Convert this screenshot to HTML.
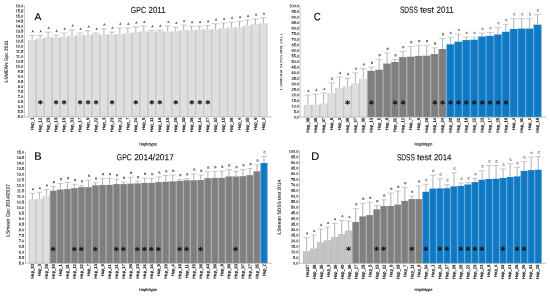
<!DOCTYPE html>
<html lang="en">
<head>
<meta charset="utf-8">
<title>Haplotype LSMEAN charts</title>
<style>
html,body{margin:0;padding:0;background:#fff;}
body{width:550px;height:296px;overflow:hidden;font-family:"Liberation Sans", sans-serif;}
svg{display:block;font-family:"Liberation Sans", sans-serif;text-rendering:geometricPrecision;}
.eb{stroke:#727272;stroke-width:0.55;fill:none;}
.ec{stroke:#999;stroke-width:0.5;fill:none;}
.ax{stroke:#9a9a9a;stroke-width:0.6;fill:none;}
.lt{font-size:3.2px;text-anchor:middle;fill:#222;font-weight:bold;}
.yl{font-size:3.85px;text-anchor:end;fill:#111;stroke:#111;stroke-width:0.1;}
.xl{font-size:4.15px;text-anchor:end;fill:#111;stroke:#111;stroke-width:0.16;}
.st{font-family:"DejaVu Sans",sans-serif;font-size:8.8px;font-weight:bold;text-anchor:middle;fill:#111;stroke:#111;stroke-width:0.3;}
.tt{font-size:8.8px;fill:#111;stroke:#111;stroke-width:0.12;}
.pl{fill:#000;stroke:#000;stroke-width:0.15;}
.yt{text-anchor:middle;fill:#111;stroke:#111;stroke-width:0.08;}
.xt{font-size:4px;text-anchor:middle;fill:#111;stroke:#111;stroke-width:0.12;}
</style>
</head>
<body>
<svg width="550" height="296" viewBox="0 0 550 296">
<rect x="0" y="0" width="550" height="296" fill="#ffffff"/>
<g class="chart" id="chartA">
<rect x="28.15" y="40.1" width="7.97" height="76.8" fill="#dfdfdf"/><path d="M28.4 40.1V116.9M35.88 40.1V116.9" stroke="#b2b2b2" stroke-width="0.5" fill="none"/>
<rect x="36.12" y="38.4" width="7.97" height="78.5" fill="#dfdfdf"/><path d="M36.38 38.4V116.9M43.85 38.4V116.9" stroke="#b2b2b2" stroke-width="0.5" fill="none"/>
<rect x="44.1" y="37.3" width="7.97" height="79.6" fill="#dfdfdf"/><path d="M44.35 37.3V116.9M51.82 37.3V116.9" stroke="#b2b2b2" stroke-width="0.5" fill="none"/>
<rect x="52.07" y="37.5" width="7.97" height="79.4" fill="#dfdfdf"/><path d="M52.32 37.5V116.9M59.8 37.5V116.9" stroke="#b2b2b2" stroke-width="0.5" fill="none"/>
<rect x="60.05" y="36.9" width="7.97" height="80" fill="#dfdfdf"/><path d="M60.3 36.9V116.9M67.77 36.9V116.9" stroke="#b2b2b2" stroke-width="0.5" fill="none"/>
<rect x="68.03" y="35.7" width="7.97" height="81.2" fill="#dfdfdf"/><path d="M68.28 35.7V116.9M75.75 35.7V116.9" stroke="#b2b2b2" stroke-width="0.5" fill="none"/>
<rect x="76" y="35.2" width="7.97" height="81.7" fill="#dfdfdf"/><path d="M76.25 35.2V116.9M83.72 35.2V116.9" stroke="#b2b2b2" stroke-width="0.5" fill="none"/>
<rect x="83.97" y="34.9" width="7.97" height="82" fill="#dfdfdf"/><path d="M84.22 34.9V116.9M91.7 34.9V116.9" stroke="#b2b2b2" stroke-width="0.5" fill="none"/>
<rect x="91.95" y="34.3" width="7.97" height="82.6" fill="#dfdfdf"/><path d="M92.2 34.3V116.9M99.67 34.3V116.9" stroke="#b2b2b2" stroke-width="0.5" fill="none"/>
<rect x="99.92" y="34.4" width="7.97" height="82.5" fill="#dfdfdf"/><path d="M100.17 34.4V116.9M107.65 34.4V116.9" stroke="#b2b2b2" stroke-width="0.5" fill="none"/>
<rect x="107.9" y="34.4" width="7.97" height="82.5" fill="#dfdfdf"/><path d="M108.15 34.4V116.9M115.62 34.4V116.9" stroke="#b2b2b2" stroke-width="0.5" fill="none"/>
<rect x="115.88" y="34" width="7.97" height="82.9" fill="#dfdfdf"/><path d="M116.12 34V116.9M123.6 34V116.9" stroke="#b2b2b2" stroke-width="0.5" fill="none"/>
<rect x="123.85" y="33.4" width="7.97" height="83.5" fill="#dfdfdf"/><path d="M124.1 33.4V116.9M131.57 33.4V116.9" stroke="#b2b2b2" stroke-width="0.5" fill="none"/>
<rect x="131.82" y="32.4" width="7.97" height="84.5" fill="#dfdfdf"/><path d="M132.07 32.4V116.9M139.55 32.4V116.9" stroke="#b2b2b2" stroke-width="0.5" fill="none"/>
<rect x="139.8" y="31.3" width="7.97" height="85.6" fill="#dfdfdf"/><path d="M140.05 31.3V116.9M147.52 31.3V116.9" stroke="#b2b2b2" stroke-width="0.5" fill="none"/>
<rect x="147.78" y="31.6" width="7.97" height="85.3" fill="#dfdfdf"/><path d="M148.03 31.6V116.9M155.5 31.6V116.9" stroke="#b2b2b2" stroke-width="0.5" fill="none"/>
<rect x="155.75" y="31.3" width="7.97" height="85.6" fill="#dfdfdf"/><path d="M156 31.3V116.9M163.47 31.3V116.9" stroke="#b2b2b2" stroke-width="0.5" fill="none"/>
<rect x="163.72" y="31.6" width="7.97" height="85.3" fill="#dfdfdf"/><path d="M163.97 31.6V116.9M171.45 31.6V116.9" stroke="#b2b2b2" stroke-width="0.5" fill="none"/>
<rect x="171.7" y="31.3" width="7.97" height="85.6" fill="#dfdfdf"/><path d="M171.95 31.3V116.9M179.42 31.3V116.9" stroke="#b2b2b2" stroke-width="0.5" fill="none"/>
<rect x="179.68" y="30.1" width="7.97" height="86.8" fill="#dfdfdf"/><path d="M179.93 30.1V116.9M187.4 30.1V116.9" stroke="#b2b2b2" stroke-width="0.5" fill="none"/>
<rect x="187.65" y="30.4" width="7.97" height="86.5" fill="#dfdfdf"/><path d="M187.9 30.4V116.9M195.38 30.4V116.9" stroke="#b2b2b2" stroke-width="0.5" fill="none"/>
<rect x="195.62" y="29.5" width="7.97" height="87.4" fill="#dfdfdf"/><path d="M195.88 29.5V116.9M203.35 29.5V116.9" stroke="#b2b2b2" stroke-width="0.5" fill="none"/>
<rect x="203.6" y="29.5" width="7.97" height="87.4" fill="#dfdfdf"/><path d="M203.85 29.5V116.9M211.32 29.5V116.9" stroke="#b2b2b2" stroke-width="0.5" fill="none"/>
<rect x="211.57" y="29.2" width="7.97" height="87.7" fill="#dfdfdf"/><path d="M211.82 29.2V116.9M219.3 29.2V116.9" stroke="#b2b2b2" stroke-width="0.5" fill="none"/>
<rect x="219.55" y="28.4" width="7.97" height="88.5" fill="#dfdfdf"/><path d="M219.8 28.4V116.9M227.27 28.4V116.9" stroke="#b2b2b2" stroke-width="0.5" fill="none"/>
<rect x="227.53" y="27.4" width="7.97" height="89.5" fill="#dfdfdf"/><path d="M227.78 27.4V116.9M235.25 27.4V116.9" stroke="#b2b2b2" stroke-width="0.5" fill="none"/>
<rect x="235.5" y="27.4" width="7.97" height="89.5" fill="#dfdfdf"/><path d="M235.75 27.4V116.9M243.22 27.4V116.9" stroke="#b2b2b2" stroke-width="0.5" fill="none"/>
<rect x="243.47" y="25.5" width="7.97" height="91.4" fill="#dfdfdf"/><path d="M243.72 25.5V116.9M251.2 25.5V116.9" stroke="#b2b2b2" stroke-width="0.5" fill="none"/>
<rect x="251.45" y="24.3" width="7.97" height="92.6" fill="#dfdfdf"/><path d="M251.7 24.3V116.9M259.18 24.3V116.9" stroke="#b2b2b2" stroke-width="0.5" fill="none"/>
<rect x="259.42" y="23.3" width="7.97" height="93.6" fill="#dfdfdf"/><path d="M259.67 23.3V116.9M267.15 23.3V116.9" stroke="#b2b2b2" stroke-width="0.5" fill="none"/>
<path class="eb" d="M32.14 40.1V35.5"/><path class="ec" d="M28.79 35.5H35.49"/>
<path class="eb" d="M40.11 38.4V35.5"/><path class="ec" d="M36.76 35.5H43.46"/>
<path class="eb" d="M48.09 37.3V32.1"/><path class="ec" d="M44.74 32.1H51.44"/>
<path class="eb" d="M56.06 37.5V35.2"/><path class="ec" d="M52.71 35.2H59.41"/>
<path class="eb" d="M64.04 36.9V33"/><path class="ec" d="M60.69 33H67.39"/>
<path class="eb" d="M72.01 35.7V29.9"/><path class="ec" d="M68.66 29.9H75.36"/>
<path class="eb" d="M79.99 35.2V33"/><path class="ec" d="M76.64 33H83.34"/>
<path class="eb" d="M87.96 34.9V30.8"/><path class="ec" d="M84.61 30.8H91.31"/>
<path class="eb" d="M95.94 34.3V33"/><path class="ec" d="M92.59 33H99.29"/>
<path class="eb" d="M103.91 34.4V28.85"/><path class="ec" d="M100.56 28.85H107.26"/>
<path class="eb" d="M111.89 34.4V32.1"/><path class="ec" d="M108.54 32.1H115.24"/>
<path class="eb" d="M119.86 34V28"/><path class="ec" d="M116.51 28H123.21"/>
<path class="eb" d="M127.84 33.4V28"/><path class="ec" d="M124.49 28H131.19"/>
<path class="eb" d="M135.81 32.4V26.9"/><path class="ec" d="M132.46 26.9H139.16"/>
<path class="eb" d="M143.79 31.3V26"/><path class="ec" d="M140.44 26H147.14"/>
<path class="eb" d="M151.76 31.6V30.5"/><path class="ec" d="M148.41 30.5H155.11"/>
<path class="eb" d="M159.74 31.3V30"/><path class="ec" d="M156.39 30H163.09"/>
<path class="eb" d="M167.71 31.6V26"/><path class="ec" d="M164.36 26H171.06"/>
<path class="eb" d="M175.69 31.3V27.2"/><path class="ec" d="M172.34 27.2H179.04"/>
<path class="eb" d="M183.66 30.1V25"/><path class="ec" d="M180.31 25H187.01"/>
<path class="eb" d="M191.64 30.4V26.3"/><path class="ec" d="M188.29 26.3H194.99"/>
<path class="eb" d="M199.61 29.5V26.3"/><path class="ec" d="M196.26 26.3H202.96"/>
<path class="eb" d="M207.59 29.5V25.5"/><path class="ec" d="M204.24 25.5H210.94"/>
<path class="eb" d="M215.56 29.2V23.8"/><path class="ec" d="M212.21 23.8H218.91"/>
<path class="eb" d="M223.54 28.4V23"/><path class="ec" d="M220.19 23H226.89"/>
<path class="eb" d="M231.51 27.4V22.2"/><path class="ec" d="M228.16 22.2H234.86"/>
<path class="eb" d="M239.49 27.4V21.4"/><path class="ec" d="M236.14 21.4H242.84"/>
<path class="eb" d="M247.46 25.5V20.1"/><path class="ec" d="M244.11 20.1H250.81"/>
<path class="eb" d="M255.44 24.3V18.9"/><path class="ec" d="M252.09 18.9H258.79"/>
<path class="eb" d="M263.41 23.3V17.8"/><path class="ec" d="M260.06 17.8H266.76"/>
<text transform="translate(32.74 32.4) rotate(0.06)" class="lt">A</text>
<text transform="translate(40.71 32.4) rotate(0.06)" class="lt">A</text>
<text transform="translate(48.69 29) rotate(0.06)" class="lt">A</text>
<text transform="translate(56.66 32.1) rotate(0.06)" class="lt">A</text>
<text transform="translate(64.64 29.9) rotate(0.06)" class="lt">A</text>
<text transform="translate(72.61 26.8) rotate(0.06)" class="lt">A</text>
<text transform="translate(80.59 29.9) rotate(0.06)" class="lt">A</text>
<text transform="translate(88.56 27.7) rotate(0.06)" class="lt">A</text>
<text transform="translate(96.54 29.9) rotate(0.06)" class="lt">A</text>
<text transform="translate(104.51 25.75) rotate(0.06)" class="lt">A</text>
<text transform="translate(112.49 29) rotate(0.06)" class="lt">A</text>
<text transform="translate(120.46 24.9) rotate(0.06)" class="lt">A</text>
<text transform="translate(128.44 24.9) rotate(0.06)" class="lt">A</text>
<text transform="translate(136.41 23.8) rotate(0.06)" class="lt">A</text>
<text transform="translate(144.39 22.9) rotate(0.06)" class="lt">A</text>
<text transform="translate(152.36 27.4) rotate(0.06)" class="lt">A</text>
<text transform="translate(160.34 26.9) rotate(0.06)" class="lt">A</text>
<text transform="translate(168.31 22.9) rotate(0.06)" class="lt">A</text>
<text transform="translate(176.29 24.1) rotate(0.06)" class="lt">A</text>
<text transform="translate(184.26 21.9) rotate(0.06)" class="lt">A</text>
<text transform="translate(192.24 23.2) rotate(0.06)" class="lt">A</text>
<text transform="translate(200.21 23.2) rotate(0.06)" class="lt">A</text>
<text transform="translate(208.19 22.4) rotate(0.06)" class="lt">A</text>
<text transform="translate(216.16 20.7) rotate(0.06)" class="lt">A</text>
<text transform="translate(224.14 19.9) rotate(0.06)" class="lt">A</text>
<text transform="translate(232.11 19.1) rotate(0.06)" class="lt">A</text>
<text transform="translate(240.09 18.3) rotate(0.06)" class="lt">A</text>
<text transform="translate(248.06 17) rotate(0.06)" class="lt">A</text>
<text transform="translate(256.04 15.8) rotate(0.06)" class="lt">A</text>
<text transform="translate(264.01 14.7) rotate(0.06)" class="lt">A</text>
<path class="ax" d="M24.4 5.5V116.9H271.9"/>
<path class="ax" d="M23.4 5.95H24.4"/>
<text transform="translate(23.2 7.35) rotate(0.06)" class="yl">16.0</text>
<path class="ax" d="M23.4 10.98H24.4"/>
<text transform="translate(23.2 12.38) rotate(0.06)" class="yl">15.5</text>
<path class="ax" d="M23.4 16.02H24.4"/>
<text transform="translate(23.2 17.42) rotate(0.06)" class="yl">15.0</text>
<path class="ax" d="M23.4 21.05H24.4"/>
<text transform="translate(23.2 22.45) rotate(0.06)" class="yl">14.5</text>
<path class="ax" d="M23.4 26.09H24.4"/>
<text transform="translate(23.2 27.49) rotate(0.06)" class="yl">14.0</text>
<path class="ax" d="M23.4 31.12H24.4"/>
<text transform="translate(23.2 32.52) rotate(0.06)" class="yl">13.5</text>
<path class="ax" d="M23.4 36.16H24.4"/>
<text transform="translate(23.2 37.56) rotate(0.06)" class="yl">13.0</text>
<path class="ax" d="M23.4 41.2H24.4"/>
<text transform="translate(23.2 42.6) rotate(0.06)" class="yl">12.5</text>
<path class="ax" d="M23.4 46.23H24.4"/>
<text transform="translate(23.2 47.63) rotate(0.06)" class="yl">12.0</text>
<path class="ax" d="M23.4 51.27H24.4"/>
<text transform="translate(23.2 52.66) rotate(0.06)" class="yl">11.5</text>
<path class="ax" d="M23.4 56.3H24.4"/>
<text transform="translate(23.2 57.7) rotate(0.06)" class="yl">11.0</text>
<path class="ax" d="M23.4 61.34H24.4"/>
<text transform="translate(23.2 62.74) rotate(0.06)" class="yl">10.5</text>
<path class="ax" d="M23.4 66.37H24.4"/>
<text transform="translate(23.2 67.77) rotate(0.06)" class="yl">10.0</text>
<path class="ax" d="M23.4 71.41H24.4"/>
<text transform="translate(23.2 72.81) rotate(0.06)" class="yl">9.5</text>
<path class="ax" d="M23.4 76.44H24.4"/>
<text transform="translate(23.2 77.84) rotate(0.06)" class="yl">9.0</text>
<path class="ax" d="M23.4 81.48H24.4"/>
<text transform="translate(23.2 82.88) rotate(0.06)" class="yl">8.5</text>
<path class="ax" d="M23.4 86.51H24.4"/>
<text transform="translate(23.2 87.91) rotate(0.06)" class="yl">8.0</text>
<path class="ax" d="M23.4 91.55H24.4"/>
<text transform="translate(23.2 92.95) rotate(0.06)" class="yl">7.5</text>
<path class="ax" d="M23.4 96.58H24.4"/>
<text transform="translate(23.2 97.98) rotate(0.06)" class="yl">7.0</text>
<path class="ax" d="M23.4 101.62H24.4"/>
<text transform="translate(23.2 103.02) rotate(0.06)" class="yl">6.5</text>
<path class="ax" d="M23.4 106.65H24.4"/>
<text transform="translate(23.2 108.05) rotate(0.06)" class="yl">6.0</text>
<path class="ax" d="M23.4 111.69H24.4"/>
<text transform="translate(23.2 113.09) rotate(0.06)" class="yl">5.5</text>
<path class="ax" d="M23.4 116.72H24.4"/>
<text transform="translate(23.2 118.12) rotate(0.06)" class="yl">5.0</text>
<text transform="translate(40.21 106.7) rotate(0.06)" class="st">*</text>
<text transform="translate(56.16 106.7) rotate(0.06)" class="st">*</text>
<text transform="translate(64.14 106.7) rotate(0.06)" class="st">*</text>
<text transform="translate(80.09 106.7) rotate(0.06)" class="st">*</text>
<text transform="translate(88.06 106.7) rotate(0.06)" class="st">*</text>
<text transform="translate(96.04 106.7) rotate(0.06)" class="st">*</text>
<text transform="translate(111.99 106.7) rotate(0.06)" class="st">*</text>
<text transform="translate(135.91 106.7) rotate(0.06)" class="st">*</text>
<text transform="translate(151.86 106.7) rotate(0.06)" class="st">*</text>
<text transform="translate(159.84 106.7) rotate(0.06)" class="st">*</text>
<text transform="translate(175.79 106.7) rotate(0.06)" class="st">*</text>
<text transform="translate(191.74 106.7) rotate(0.06)" class="st">*</text>
<text transform="translate(199.71 106.7) rotate(0.06)" class="st">*</text>
<text transform="translate(207.69 106.7) rotate(0.06)" class="st">*</text>
<text class="xl" transform="translate(33.44 117.8) rotate(-89.94)">Hap_1</text>
<text class="xl" transform="translate(41.41 117.8) rotate(-89.94)">Hap_12</text>
<text class="xl" transform="translate(49.39 117.8) rotate(-89.94)">Hap_26</text>
<text class="xl" transform="translate(57.36 117.8) rotate(-89.94)">Hap_13</text>
<text class="xl" transform="translate(65.34 117.8) rotate(-89.94)">Hap_19</text>
<text class="xl" transform="translate(73.31 117.8) rotate(-89.94)">Hap_31</text>
<text class="xl" transform="translate(81.29 117.8) rotate(-89.94)">Hap_17</text>
<text class="xl" transform="translate(89.26 117.8) rotate(-89.94)">Hap_9</text>
<text class="xl" transform="translate(97.24 117.8) rotate(-89.94)">Hap_22</text>
<text class="xl" transform="translate(105.21 117.8) rotate(-89.94)">Hap_3</text>
<text class="xl" transform="translate(113.19 117.8) rotate(-89.94)">Hap_23</text>
<text class="xl" transform="translate(121.16 117.8) rotate(-89.94)">Hap_21</text>
<text class="xl" transform="translate(129.14 117.8) rotate(-89.94)">Hap_7</text>
<text class="xl" transform="translate(137.11 117.8) rotate(-89.94)">Hap_24</text>
<text class="xl" transform="translate(145.09 117.8) rotate(-89.94)">Hap_5</text>
<text class="xl" transform="translate(153.06 117.8) rotate(-89.94)">Hap_11</text>
<text class="xl" transform="translate(161.04 117.8) rotate(-89.94)">Hap_16</text>
<text class="xl" transform="translate(169.01 117.8) rotate(-89.94)">Hap_15</text>
<text class="xl" transform="translate(176.99 117.8) rotate(-89.94)">Hap_25</text>
<text class="xl" transform="translate(184.96 117.8) rotate(-89.94)">Hap_30</text>
<text class="xl" transform="translate(192.94 117.8) rotate(-89.94)">Hap_36</text>
<text class="xl" transform="translate(200.91 117.8) rotate(-89.94)">Hap_14</text>
<text class="xl" transform="translate(208.89 117.8) rotate(-89.94)">Hap_27</text>
<text class="xl" transform="translate(216.86 117.8) rotate(-89.94)">Hap_32</text>
<text class="xl" transform="translate(224.84 117.8) rotate(-89.94)">Hap_10</text>
<text class="xl" transform="translate(232.81 117.8) rotate(-89.94)">Hap_38</text>
<text class="xl" transform="translate(240.79 117.8) rotate(-89.94)">Hap_4</text>
<text class="xl" transform="translate(248.76 117.8) rotate(-89.94)">Hap_35</text>
<text class="xl" transform="translate(256.74 117.8) rotate(-89.94)">Hap_6</text>
<text class="xl" transform="translate(264.71 117.8) rotate(-89.94)">Hap_2</text>
<text transform="translate(130.85 12.9) rotate(0.06)" class="tt" textLength="15.05" lengthAdjust="spacingAndGlyphs">GPC</text>
<text transform="translate(148.6 12.9) rotate(0.06)" class="tt" textLength="16.9" lengthAdjust="spacingAndGlyphs">2011</text>
<text transform="translate(34.5 20.15) rotate(0.06)" class="pl" font-size="10.3">A</text>
<g><text class="yt" font-size="4.6" transform="translate(7.8 61.55) rotate(-89.94)" textLength="41.9" lengthAdjust="spacingAndGlyphs">LSMEAN Gpc 2011</text></g>
<text transform="translate(148 145.6) rotate(0.06)" class="xt">Haplotype</text>
</g>
<g class="chart" id="chartB">
<rect x="28.85" y="199.5" width="7.02" height="63.7" fill="#dfdfdf"/><path d="M29.1 199.5V263.2M35.62 199.5V263.2" stroke="#b2b2b2" stroke-width="0.5" fill="none"/>
<rect x="35.87" y="198.7" width="7.02" height="64.5" fill="#dfdfdf"/><path d="M36.12 198.7V263.2M42.64 198.7V263.2" stroke="#b2b2b2" stroke-width="0.5" fill="none"/>
<rect x="42.89" y="196.5" width="7.02" height="66.7" fill="#dfdfdf"/><path d="M43.14 196.5V263.2M49.66 196.5V263.2" stroke="#b2b2b2" stroke-width="0.5" fill="none"/>
<rect x="49.91" y="190.7" width="7.02" height="72.5" fill="#7f7f7f"/><path d="M50.16 190.7V263.2M56.68 190.7V263.2" stroke="#c2c2c2" stroke-width="0.5" fill="none"/>
<rect x="56.93" y="189.6" width="7.02" height="73.6" fill="#7f7f7f"/><path d="M57.18 189.6V263.2M63.7 189.6V263.2" stroke="#c2c2c2" stroke-width="0.5" fill="none"/>
<rect x="63.95" y="189.1" width="7.02" height="74.1" fill="#7f7f7f"/><path d="M64.2 189.1V263.2M70.72 189.1V263.2" stroke="#c2c2c2" stroke-width="0.5" fill="none"/>
<rect x="70.97" y="188.2" width="7.02" height="75" fill="#7f7f7f"/><path d="M71.22 188.2V263.2M77.74 188.2V263.2" stroke="#c2c2c2" stroke-width="0.5" fill="none"/>
<rect x="77.99" y="187.2" width="7.02" height="76" fill="#7f7f7f"/><path d="M78.24 187.2V263.2M84.76 187.2V263.2" stroke="#c2c2c2" stroke-width="0.5" fill="none"/>
<rect x="85.01" y="187.2" width="7.02" height="76" fill="#7f7f7f"/><path d="M85.26 187.2V263.2M91.78 187.2V263.2" stroke="#c2c2c2" stroke-width="0.5" fill="none"/>
<rect x="92.03" y="185.3" width="7.02" height="77.9" fill="#7f7f7f"/><path d="M92.28 185.3V263.2M98.8 185.3V263.2" stroke="#c2c2c2" stroke-width="0.5" fill="none"/>
<rect x="99.05" y="185" width="7.02" height="78.2" fill="#7f7f7f"/><path d="M99.3 185V263.2M105.82 185V263.2" stroke="#c2c2c2" stroke-width="0.5" fill="none"/>
<rect x="106.07" y="184.9" width="7.02" height="78.3" fill="#7f7f7f"/><path d="M106.32 184.9V263.2M112.84 184.9V263.2" stroke="#c2c2c2" stroke-width="0.5" fill="none"/>
<rect x="113.09" y="184.1" width="7.02" height="79.1" fill="#7f7f7f"/><path d="M113.34 184.1V263.2M119.86 184.1V263.2" stroke="#c2c2c2" stroke-width="0.5" fill="none"/>
<rect x="120.11" y="184.1" width="7.02" height="79.1" fill="#7f7f7f"/><path d="M120.36 184.1V263.2M126.88 184.1V263.2" stroke="#c2c2c2" stroke-width="0.5" fill="none"/>
<rect x="127.13" y="183.7" width="7.02" height="79.5" fill="#7f7f7f"/><path d="M127.38 183.7V263.2M133.9 183.7V263.2" stroke="#c2c2c2" stroke-width="0.5" fill="none"/>
<rect x="134.15" y="183.4" width="7.02" height="79.8" fill="#7f7f7f"/><path d="M134.4 183.4V263.2M140.92 183.4V263.2" stroke="#c2c2c2" stroke-width="0.5" fill="none"/>
<rect x="141.17" y="182.9" width="7.02" height="80.3" fill="#7f7f7f"/><path d="M141.42 182.9V263.2M147.94 182.9V263.2" stroke="#c2c2c2" stroke-width="0.5" fill="none"/>
<rect x="148.19" y="182.9" width="7.02" height="80.3" fill="#7f7f7f"/><path d="M148.44 182.9V263.2M154.96 182.9V263.2" stroke="#c2c2c2" stroke-width="0.5" fill="none"/>
<rect x="155.21" y="182.1" width="7.02" height="81.1" fill="#7f7f7f"/><path d="M155.46 182.1V263.2M161.98 182.1V263.2" stroke="#c2c2c2" stroke-width="0.5" fill="none"/>
<rect x="162.23" y="181.8" width="7.02" height="81.4" fill="#7f7f7f"/><path d="M162.48 181.8V263.2M169 181.8V263.2" stroke="#c2c2c2" stroke-width="0.5" fill="none"/>
<rect x="169.25" y="181.4" width="7.02" height="81.8" fill="#7f7f7f"/><path d="M169.5 181.4V263.2M176.02 181.4V263.2" stroke="#c2c2c2" stroke-width="0.5" fill="none"/>
<rect x="176.27" y="180.9" width="7.02" height="82.3" fill="#7f7f7f"/><path d="M176.52 180.9V263.2M183.04 180.9V263.2" stroke="#c2c2c2" stroke-width="0.5" fill="none"/>
<rect x="183.29" y="180.3" width="7.02" height="82.9" fill="#7f7f7f"/><path d="M183.54 180.3V263.2M190.06 180.3V263.2" stroke="#c2c2c2" stroke-width="0.5" fill="none"/>
<rect x="190.31" y="180.3" width="7.02" height="82.9" fill="#7f7f7f"/><path d="M190.56 180.3V263.2M197.08 180.3V263.2" stroke="#c2c2c2" stroke-width="0.5" fill="none"/>
<rect x="197.33" y="180" width="7.02" height="83.2" fill="#7f7f7f"/><path d="M197.58 180V263.2M204.1 180V263.2" stroke="#c2c2c2" stroke-width="0.5" fill="none"/>
<rect x="204.35" y="178.2" width="7.02" height="85" fill="#7f7f7f"/><path d="M204.6 178.2V263.2M211.12 178.2V263.2" stroke="#c2c2c2" stroke-width="0.5" fill="none"/>
<rect x="211.37" y="177.9" width="7.02" height="85.3" fill="#7f7f7f"/><path d="M211.62 177.9V263.2M218.14 177.9V263.2" stroke="#c2c2c2" stroke-width="0.5" fill="none"/>
<rect x="218.39" y="177.9" width="7.02" height="85.3" fill="#7f7f7f"/><path d="M218.64 177.9V263.2M225.16 177.9V263.2" stroke="#c2c2c2" stroke-width="0.5" fill="none"/>
<rect x="225.41" y="176.5" width="7.02" height="86.7" fill="#7f7f7f"/><path d="M225.66 176.5V263.2M232.18 176.5V263.2" stroke="#c2c2c2" stroke-width="0.5" fill="none"/>
<rect x="232.43" y="176.5" width="7.02" height="86.7" fill="#7f7f7f"/><path d="M232.68 176.5V263.2M239.2 176.5V263.2" stroke="#c2c2c2" stroke-width="0.5" fill="none"/>
<rect x="239.45" y="176.2" width="7.02" height="87" fill="#7f7f7f"/><path d="M239.7 176.2V263.2M246.22 176.2V263.2" stroke="#c2c2c2" stroke-width="0.5" fill="none"/>
<rect x="246.47" y="175.1" width="7.02" height="88.1" fill="#7f7f7f"/><path d="M246.72 175.1V263.2M253.24 175.1V263.2" stroke="#c2c2c2" stroke-width="0.5" fill="none"/>
<rect x="253.49" y="171.3" width="7.02" height="91.9" fill="#7f7f7f"/><path d="M253.74 171.3V263.2M260.26 171.3V263.2" stroke="#c2c2c2" stroke-width="0.5" fill="none"/>
<rect x="260.51" y="163" width="7.02" height="100.2" fill="#0e7ac5"/><path d="M260.74 163V263.2M267.3 163V263.2" stroke="#9dc0dc" stroke-width="0.45" fill="none"/>
<path class="eb" d="M32.36 199.5V193.3"/><path class="ec" d="M29.41 193.3H35.31"/>
<path class="eb" d="M39.38 198.7V192.3"/><path class="ec" d="M36.43 192.3H42.33"/>
<path class="eb" d="M46.4 196.5V189.6"/><path class="ec" d="M43.45 189.6H49.35"/>
<path class="eb" d="M53.42 190.7V186.4"/><path class="ec" d="M50.47 186.4H56.37"/>
<path class="eb" d="M60.44 189.6V183.4"/><path class="ec" d="M57.49 183.4H63.39"/>
<path class="eb" d="M67.46 189.1V182.4"/><path class="ec" d="M64.51 182.4H70.41"/>
<path class="eb" d="M74.48 188.2V184.3"/><path class="ec" d="M71.53 184.3H77.43"/>
<path class="eb" d="M81.5 187.2V185.7"/><path class="ec" d="M78.55 185.7H84.45"/>
<path class="eb" d="M88.52 187.2V180.2"/><path class="ec" d="M85.57 180.2H91.47"/>
<path class="eb" d="M95.54 185.3V182.8"/><path class="ec" d="M92.59 182.8H98.49"/>
<path class="eb" d="M102.56 185V178.3"/><path class="ec" d="M99.61 178.3H105.51"/>
<path class="eb" d="M109.58 184.9V178.3"/><path class="ec" d="M106.63 178.3H112.53"/>
<path class="eb" d="M116.6 184.1V179.3"/><path class="ec" d="M113.65 179.3H119.55"/>
<path class="eb" d="M123.62 184.1V182.1"/><path class="ec" d="M120.67 182.1H126.57"/>
<path class="eb" d="M130.64 183.7V177.2"/><path class="ec" d="M127.69 177.2H133.59"/>
<path class="eb" d="M137.66 183.4V181.3"/><path class="ec" d="M134.71 181.3H140.61"/>
<path class="eb" d="M144.68 182.9V178"/><path class="ec" d="M141.73 178H147.63"/>
<path class="eb" d="M151.7 182.9V178.3"/><path class="ec" d="M148.75 178.3H154.65"/>
<path class="eb" d="M158.72 182.1V176.9"/><path class="ec" d="M155.77 176.9H161.67"/>
<path class="eb" d="M165.74 181.8V175.5"/><path class="ec" d="M162.79 175.5H168.69"/>
<path class="eb" d="M172.76 181.4V175.1"/><path class="ec" d="M169.81 175.1H175.71"/>
<path class="eb" d="M179.78 180.9V179.3"/><path class="ec" d="M176.83 179.3H182.73"/>
<path class="eb" d="M186.8 180.3V178.7"/><path class="ec" d="M183.85 178.7H189.75"/>
<path class="eb" d="M193.82 180.3V173.9"/><path class="ec" d="M190.87 173.9H196.77"/>
<path class="eb" d="M200.84 180V175.1"/><path class="ec" d="M197.89 175.1H203.79"/>
<path class="eb" d="M207.86 178.2V171.8"/><path class="ec" d="M204.91 171.8H210.81"/>
<path class="eb" d="M214.88 177.9V171.3"/><path class="ec" d="M211.93 171.3H217.83"/>
<path class="eb" d="M221.9 177.9V171"/><path class="ec" d="M218.95 171H224.85"/>
<path class="eb" d="M228.92 176.5V169.6"/><path class="ec" d="M225.97 169.6H231.87"/>
<path class="eb" d="M235.94 176.5V171.3"/><path class="ec" d="M232.99 171.3H238.89"/>
<path class="eb" d="M242.96 176.2V169.6"/><path class="ec" d="M240.01 169.6H245.91"/>
<path class="eb" d="M249.98 175.1V168.4"/><path class="ec" d="M247.03 168.4H252.93"/>
<path class="eb" d="M257 171.3V164.8"/><path class="ec" d="M254.05 164.8H259.95"/>
<path class="eb" d="M264.02 163V156.3"/><path class="ec" d="M261.07 156.3H266.97"/>
<text transform="translate(32.96 190.2) rotate(0.06)" class="lt">A</text>
<text transform="translate(39.98 189.2) rotate(0.06)" class="lt">A</text>
<text transform="translate(47 186.5) rotate(0.06)" class="lt">A</text>
<text transform="translate(54.02 183.3) rotate(0.06)" class="lt">B</text>
<text transform="translate(61.04 180.3) rotate(0.06)" class="lt">B</text>
<text transform="translate(68.06 179.3) rotate(0.06)" class="lt">B</text>
<text transform="translate(75.08 181.2) rotate(0.06)" class="lt">B</text>
<text transform="translate(82.1 182.6) rotate(0.06)" class="lt">B</text>
<text transform="translate(89.12 177.1) rotate(0.06)" class="lt">B</text>
<text transform="translate(96.14 179.7) rotate(0.06)" class="lt">B</text>
<text transform="translate(103.16 175.2) rotate(0.06)" class="lt">B</text>
<text transform="translate(110.18 175.2) rotate(0.06)" class="lt">B</text>
<text transform="translate(117.2 176.2) rotate(0.06)" class="lt">B</text>
<text transform="translate(124.22 179) rotate(0.06)" class="lt">B</text>
<text transform="translate(131.24 174.1) rotate(0.06)" class="lt">B</text>
<text transform="translate(138.26 178.2) rotate(0.06)" class="lt">B</text>
<text transform="translate(145.28 174.9) rotate(0.06)" class="lt">B</text>
<text transform="translate(152.3 175.2) rotate(0.06)" class="lt">B</text>
<text transform="translate(159.32 173.8) rotate(0.06)" class="lt">B</text>
<text transform="translate(166.34 172.4) rotate(0.06)" class="lt">B</text>
<text transform="translate(173.36 172) rotate(0.06)" class="lt">B</text>
<text transform="translate(180.38 176.2) rotate(0.06)" class="lt">B</text>
<text transform="translate(187.4 175.6) rotate(0.06)" class="lt">B</text>
<text transform="translate(194.42 170.8) rotate(0.06)" class="lt">B</text>
<text transform="translate(201.44 172) rotate(0.06)" class="lt">B</text>
<text transform="translate(208.46 168.7) rotate(0.06)" class="lt">B</text>
<text transform="translate(215.48 168.2) rotate(0.06)" class="lt">B</text>
<text transform="translate(222.5 167.9) rotate(0.06)" class="lt">B</text>
<text transform="translate(229.52 166.5) rotate(0.06)" class="lt">B</text>
<text transform="translate(236.54 168.2) rotate(0.06)" class="lt">B</text>
<text transform="translate(243.56 166.5) rotate(0.06)" class="lt">B</text>
<text transform="translate(250.58 165.3) rotate(0.06)" class="lt">B</text>
<text transform="translate(257.6 161.7) rotate(0.06)" class="lt">B</text>
<text transform="translate(264.62 153.2) rotate(0.06)" class="lt">C</text>
<path class="ax" d="M25.5 152.2V263.2H272.03"/>
<path class="ax" d="M24.5 152H25.5"/>
<text transform="translate(24.2 153.4) rotate(0.06)" class="yl">15.0</text>
<path class="ax" d="M24.5 157.56H25.5"/>
<text transform="translate(24.2 158.96) rotate(0.06)" class="yl">14.5</text>
<path class="ax" d="M24.5 163.11H25.5"/>
<text transform="translate(24.2 164.51) rotate(0.06)" class="yl">14.0</text>
<path class="ax" d="M24.5 168.66H25.5"/>
<text transform="translate(24.2 170.06) rotate(0.06)" class="yl">13.5</text>
<path class="ax" d="M24.5 174.22H25.5"/>
<text transform="translate(24.2 175.62) rotate(0.06)" class="yl">13.0</text>
<path class="ax" d="M24.5 179.78H25.5"/>
<text transform="translate(24.2 181.18) rotate(0.06)" class="yl">12.5</text>
<path class="ax" d="M24.5 185.33H25.5"/>
<text transform="translate(24.2 186.73) rotate(0.06)" class="yl">12.0</text>
<path class="ax" d="M24.5 190.88H25.5"/>
<text transform="translate(24.2 192.28) rotate(0.06)" class="yl">11.5</text>
<path class="ax" d="M24.5 196.44H25.5"/>
<text transform="translate(24.2 197.84) rotate(0.06)" class="yl">11.0</text>
<path class="ax" d="M24.5 202H25.5"/>
<text transform="translate(24.2 203.4) rotate(0.06)" class="yl">10.5</text>
<path class="ax" d="M24.5 207.55H25.5"/>
<text transform="translate(24.2 208.95) rotate(0.06)" class="yl">10.0</text>
<path class="ax" d="M24.5 213.1H25.5"/>
<text transform="translate(24.2 214.5) rotate(0.06)" class="yl">9.5</text>
<path class="ax" d="M24.5 218.66H25.5"/>
<text transform="translate(24.2 220.06) rotate(0.06)" class="yl">9.0</text>
<path class="ax" d="M24.5 224.22H25.5"/>
<text transform="translate(24.2 225.62) rotate(0.06)" class="yl">8.5</text>
<path class="ax" d="M24.5 229.77H25.5"/>
<text transform="translate(24.2 231.17) rotate(0.06)" class="yl">8.0</text>
<path class="ax" d="M24.5 235.32H25.5"/>
<text transform="translate(24.2 236.72) rotate(0.06)" class="yl">7.5</text>
<path class="ax" d="M24.5 240.88H25.5"/>
<text transform="translate(24.2 242.28) rotate(0.06)" class="yl">7.0</text>
<path class="ax" d="M24.5 246.44H25.5"/>
<text transform="translate(24.2 247.84) rotate(0.06)" class="yl">6.5</text>
<path class="ax" d="M24.5 251.99H25.5"/>
<text transform="translate(24.2 253.39) rotate(0.06)" class="yl">6.0</text>
<path class="ax" d="M24.5 257.54H25.5"/>
<text transform="translate(24.2 258.94) rotate(0.06)" class="yl">5.5</text>
<path class="ax" d="M24.5 263.1H25.5"/>
<text transform="translate(24.2 264.5) rotate(0.06)" class="yl">5.0</text>
<text transform="translate(53.12 253.5) rotate(0.06)" class="st">*</text>
<text transform="translate(74.18 253.5) rotate(0.06)" class="st">*</text>
<text transform="translate(81.2 253.5) rotate(0.06)" class="st">*</text>
<text transform="translate(95.24 253.5) rotate(0.06)" class="st">*</text>
<text transform="translate(116.3 253.5) rotate(0.06)" class="st">*</text>
<text transform="translate(123.32 253.5) rotate(0.06)" class="st">*</text>
<text transform="translate(137.36 253.5) rotate(0.06)" class="st">*</text>
<text transform="translate(144.38 253.5) rotate(0.06)" class="st">*</text>
<text transform="translate(151.4 253.5) rotate(0.06)" class="st">*</text>
<text transform="translate(158.42 253.5) rotate(0.06)" class="st">*</text>
<text transform="translate(179.48 253.5) rotate(0.06)" class="st">*</text>
<text transform="translate(186.5 253.5) rotate(0.06)" class="st">*</text>
<text transform="translate(200.54 253.5) rotate(0.06)" class="st">*</text>
<text transform="translate(235.64 253.5) rotate(0.06)" class="st">*</text>
<text class="xl" transform="translate(33.76 264.1) rotate(-89.94)">Hap_10</text>
<text class="xl" transform="translate(40.78 264.1) rotate(-89.94)">Hap_3</text>
<text class="xl" transform="translate(47.8 264.1) rotate(-89.94)">Hap_26</text>
<text class="xl" transform="translate(54.82 264.1) rotate(-89.94)">Hap_19</text>
<text class="xl" transform="translate(61.84 264.1) rotate(-89.94)">Hap_1</text>
<text class="xl" transform="translate(68.86 264.1) rotate(-89.94)">Hap_31</text>
<text class="xl" transform="translate(75.88 264.1) rotate(-89.94)">Hap_12</text>
<text class="xl" transform="translate(82.9 264.1) rotate(-89.94)">Hap_22</text>
<text class="xl" transform="translate(89.92 264.1) rotate(-89.94)">Hap_7</text>
<text class="xl" transform="translate(96.94 264.1) rotate(-89.94)">Hap_13</text>
<text class="xl" transform="translate(103.96 264.1) rotate(-89.94)">Hap_9</text>
<text class="xl" transform="translate(110.98 264.1) rotate(-89.94)">Hap_41</text>
<text class="xl" transform="translate(118 264.1) rotate(-89.94)">Hap_21</text>
<text class="xl" transform="translate(125.02 264.1) rotate(-89.94)">Hap_17</text>
<text class="xl" transform="translate(132.04 264.1) rotate(-89.94)">Hap_28</text>
<text class="xl" transform="translate(139.06 264.1) rotate(-89.94)">Hap_23</text>
<text class="xl" transform="translate(146.08 264.1) rotate(-89.94)">Hap_24</text>
<text class="xl" transform="translate(153.1 264.1) rotate(-89.94)">Hap_14</text>
<text class="xl" transform="translate(160.12 264.1) rotate(-89.94)">Hap_5</text>
<text class="xl" transform="translate(167.14 264.1) rotate(-89.94)">Hap_29</text>
<text class="xl" transform="translate(174.16 264.1) rotate(-89.94)">Hap_4</text>
<text class="xl" transform="translate(181.18 264.1) rotate(-89.94)">Hap_16</text>
<text class="xl" transform="translate(188.2 264.1) rotate(-89.94)">Hap_11</text>
<text class="xl" transform="translate(195.22 264.1) rotate(-89.94)">Hap_15</text>
<text class="xl" transform="translate(202.24 264.1) rotate(-89.94)">Hap_36</text>
<text class="xl" transform="translate(209.26 264.1) rotate(-89.94)">Hap_40</text>
<text class="xl" transform="translate(216.28 264.1) rotate(-89.94)">Hap_39</text>
<text class="xl" transform="translate(223.3 264.1) rotate(-89.94)">Hap_8</text>
<text class="xl" transform="translate(230.32 264.1) rotate(-89.94)">Hap_38</text>
<text class="xl" transform="translate(237.34 264.1) rotate(-89.94)">Hap_20</text>
<text class="xl" transform="translate(244.36 264.1) rotate(-89.94)">Hap_37</text>
<text class="xl" transform="translate(251.38 264.1) rotate(-89.94)">Hap_27</text>
<text class="xl" transform="translate(258.4 264.1) rotate(-89.94)">Hap_35</text>
<text class="xl" transform="translate(265.42 264.1) rotate(-89.94)">Hap_2</text>
<text transform="translate(116.8 160.25) rotate(0.06)" class="tt" textLength="15" lengthAdjust="spacingAndGlyphs">GPC</text>
<text transform="translate(134.2 160.25) rotate(0.06)" class="tt" textLength="39.6" lengthAdjust="spacingAndGlyphs">2014/2017</text>
<text transform="translate(34.3 159.8) rotate(0.06)" class="pl" font-size="10.7" textLength="7.4" lengthAdjust="spacingAndGlyphs">B</text>
<g><text class="yt" font-size="4.8" transform="translate(9.6 210.45) rotate(-89.94)" textLength="52.7" lengthAdjust="spacingAndGlyphs">LSmean Gpc 2014/2017</text></g>
<text transform="translate(148 291) rotate(0.06)" class="xt">Haplotype</text>
</g>
<g class="chart" id="chartC">
<rect x="303.9" y="105.1" width="7.92" height="12" fill="#dfdfdf"/><path d="M304.15 105.1V117.1M311.57 105.1V117.1" stroke="#b2b2b2" stroke-width="0.5" fill="none"/>
<rect x="311.82" y="104.7" width="7.92" height="12.4" fill="#dfdfdf"/><path d="M312.07 104.7V117.1M319.49 104.7V117.1" stroke="#b2b2b2" stroke-width="0.5" fill="none"/>
<rect x="319.74" y="103.5" width="7.92" height="13.6" fill="#dfdfdf"/><path d="M319.99 103.5V117.1M327.41 103.5V117.1" stroke="#b2b2b2" stroke-width="0.5" fill="none"/>
<rect x="327.66" y="93.2" width="7.92" height="23.9" fill="#dfdfdf"/><path d="M327.91 93.2V117.1M335.33 93.2V117.1" stroke="#b2b2b2" stroke-width="0.5" fill="none"/>
<rect x="335.58" y="87.9" width="7.92" height="29.2" fill="#dfdfdf"/><path d="M335.83 87.9V117.1M343.25 87.9V117.1" stroke="#b2b2b2" stroke-width="0.5" fill="none"/>
<rect x="343.5" y="86.1" width="7.92" height="31" fill="#dfdfdf"/><path d="M343.75 86.1V117.1M351.17 86.1V117.1" stroke="#b2b2b2" stroke-width="0.5" fill="none"/>
<rect x="351.42" y="83.4" width="7.92" height="33.7" fill="#dfdfdf"/><path d="M351.67 83.4V117.1M359.09 83.4V117.1" stroke="#b2b2b2" stroke-width="0.5" fill="none"/>
<rect x="359.34" y="79" width="7.92" height="38.1" fill="#dfdfdf"/><path d="M359.59 79V117.1M367.01 79V117.1" stroke="#b2b2b2" stroke-width="0.5" fill="none"/>
<rect x="367.26" y="70.9" width="7.92" height="46.2" fill="#7f7f7f"/><path d="M367.51 70.9V117.1M374.93 70.9V117.1" stroke="#c2c2c2" stroke-width="0.5" fill="none"/>
<rect x="375.18" y="69.7" width="7.92" height="47.4" fill="#7f7f7f"/><path d="M375.43 69.7V117.1M382.85 69.7V117.1" stroke="#c2c2c2" stroke-width="0.5" fill="none"/>
<rect x="383.1" y="63.6" width="7.92" height="53.5" fill="#7f7f7f"/><path d="M383.35 63.6V117.1M390.77 63.6V117.1" stroke="#c2c2c2" stroke-width="0.5" fill="none"/>
<rect x="391.02" y="62" width="7.92" height="55.1" fill="#7f7f7f"/><path d="M391.27 62V117.1M398.69 62V117.1" stroke="#c2c2c2" stroke-width="0.5" fill="none"/>
<rect x="398.94" y="57.1" width="7.92" height="60" fill="#7f7f7f"/><path d="M399.19 57.1V117.1M406.61 57.1V117.1" stroke="#c2c2c2" stroke-width="0.5" fill="none"/>
<rect x="406.86" y="56.7" width="7.92" height="60.4" fill="#7f7f7f"/><path d="M407.11 56.7V117.1M414.53 56.7V117.1" stroke="#c2c2c2" stroke-width="0.5" fill="none"/>
<rect x="414.78" y="55.9" width="7.92" height="61.2" fill="#7f7f7f"/><path d="M415.03 55.9V117.1M422.45 55.9V117.1" stroke="#c2c2c2" stroke-width="0.5" fill="none"/>
<rect x="422.7" y="55.7" width="7.92" height="61.4" fill="#7f7f7f"/><path d="M422.95 55.7V117.1M430.37 55.7V117.1" stroke="#c2c2c2" stroke-width="0.5" fill="none"/>
<rect x="430.62" y="54.1" width="7.92" height="63" fill="#7f7f7f"/><path d="M430.87 54.1V117.1M438.29 54.1V117.1" stroke="#c2c2c2" stroke-width="0.5" fill="none"/>
<rect x="438.54" y="49" width="7.92" height="68.1" fill="#7f7f7f"/><path d="M438.79 49V117.1M446.21 49V117.1" stroke="#c2c2c2" stroke-width="0.5" fill="none"/>
<rect x="446.46" y="44.3" width="7.92" height="72.8" fill="#0e7ac5"/><path d="M446.69 44.3V117.1M454.15 44.3V117.1" stroke="#9dc0dc" stroke-width="0.45" fill="none"/>
<rect x="454.38" y="41.7" width="7.92" height="75.4" fill="#0e7ac5"/><path d="M454.61 41.7V117.1M462.07 41.7V117.1" stroke="#9dc0dc" stroke-width="0.45" fill="none"/>
<rect x="462.3" y="40.1" width="7.92" height="77" fill="#0e7ac5"/><path d="M462.52 40.1V117.1M469.99 40.1V117.1" stroke="#9dc0dc" stroke-width="0.45" fill="none"/>
<rect x="470.22" y="39.7" width="7.92" height="77.4" fill="#0e7ac5"/><path d="M470.44 39.7V117.1M477.91 39.7V117.1" stroke="#9dc0dc" stroke-width="0.45" fill="none"/>
<rect x="478.14" y="36.5" width="7.92" height="80.6" fill="#0e7ac5"/><path d="M478.37 36.5V117.1M485.83 36.5V117.1" stroke="#9dc0dc" stroke-width="0.45" fill="none"/>
<rect x="486.06" y="35.9" width="7.92" height="81.2" fill="#0e7ac5"/><path d="M486.28 35.9V117.1M493.75 35.9V117.1" stroke="#9dc0dc" stroke-width="0.45" fill="none"/>
<rect x="493.98" y="34.5" width="7.92" height="82.6" fill="#0e7ac5"/><path d="M494.2 34.5V117.1M501.67 34.5V117.1" stroke="#9dc0dc" stroke-width="0.45" fill="none"/>
<rect x="501.9" y="31.8" width="7.92" height="85.3" fill="#0e7ac5"/><path d="M502.12 31.8V117.1M509.59 31.8V117.1" stroke="#9dc0dc" stroke-width="0.45" fill="none"/>
<rect x="509.82" y="29" width="7.92" height="88.1" fill="#0e7ac5"/><path d="M510.04 29V117.1M517.51 29V117.1" stroke="#9dc0dc" stroke-width="0.45" fill="none"/>
<rect x="517.74" y="28.6" width="7.92" height="88.5" fill="#0e7ac5"/><path d="M517.97 28.6V117.1M525.43 28.6V117.1" stroke="#9dc0dc" stroke-width="0.45" fill="none"/>
<rect x="525.66" y="28.6" width="7.92" height="88.5" fill="#0e7ac5"/><path d="M525.88 28.6V117.1M533.35 28.6V117.1" stroke="#9dc0dc" stroke-width="0.45" fill="none"/>
<rect x="533.58" y="24.7" width="7.92" height="92.4" fill="#0e7ac5"/><path d="M533.8 24.7V117.1M541.27 24.7V117.1" stroke="#9dc0dc" stroke-width="0.45" fill="none"/>
<path class="eb" d="M307.86 105.1V95"/><path class="ec" d="M304.53 95H311.19"/>
<path class="eb" d="M315.78 104.7V94.2"/><path class="ec" d="M312.45 94.2H319.11"/>
<path class="eb" d="M323.7 103.5V93"/><path class="ec" d="M320.37 93H327.03"/>
<path class="eb" d="M331.62 93.2V82.8"/><path class="ec" d="M328.29 82.8H334.95"/>
<path class="eb" d="M339.54 87.9V77"/><path class="ec" d="M336.21 77H342.87"/>
<path class="eb" d="M347.46 86.1V78.4"/><path class="ec" d="M344.13 78.4H350.79"/>
<path class="eb" d="M355.38 83.4V72.9"/><path class="ec" d="M352.05 72.9H358.71"/>
<path class="eb" d="M363.3 79V68.6"/><path class="ec" d="M359.97 68.6H366.63"/>
<path class="eb" d="M371.22 70.9V67.2"/><path class="ec" d="M367.89 67.2H374.55"/>
<path class="eb" d="M379.14 69.7V59.3"/><path class="ec" d="M375.81 59.3H382.47"/>
<path class="eb" d="M387.06 63.6V53"/><path class="ec" d="M383.73 53H390.39"/>
<path class="eb" d="M394.98 62V59.5"/><path class="ec" d="M391.65 59.5H398.31"/>
<path class="eb" d="M402.9 57.1V51.4"/><path class="ec" d="M399.57 51.4H406.23"/>
<path class="eb" d="M410.82 56.7V46.4"/><path class="ec" d="M407.49 46.4H414.15"/>
<path class="eb" d="M418.74 55.9V45.3"/><path class="ec" d="M415.41 45.3H422.07"/>
<path class="eb" d="M426.66 55.7V45.3"/><path class="ec" d="M423.33 45.3H429.99"/>
<path class="eb" d="M434.58 54.1V47.8"/><path class="ec" d="M431.25 47.8H437.91"/>
<path class="eb" d="M442.5 49V38.6"/><path class="ec" d="M439.17 38.6H445.83"/>
<path class="eb" d="M450.42 44.3V37.2"/><path class="ec" d="M447.09 37.2H453.75"/>
<path class="eb" d="M458.34 41.7V34.2"/><path class="ec" d="M455.01 34.2H461.67"/>
<path class="eb" d="M466.26 40.1V37.1"/><path class="ec" d="M462.93 37.1H469.59"/>
<path class="eb" d="M474.18 39.7V37.1"/><path class="ec" d="M470.85 37.1H477.51"/>
<path class="eb" d="M482.1 36.5V33"/><path class="ec" d="M478.77 33H485.43"/>
<path class="eb" d="M490.02 35.9V32.4"/><path class="ec" d="M486.69 32.4H493.35"/>
<path class="eb" d="M497.94 34.5V27.4"/><path class="ec" d="M494.61 27.4H501.27"/>
<path class="eb" d="M505.86 31.8V24.3"/><path class="ec" d="M502.53 24.3H509.19"/>
<path class="eb" d="M513.78 29V18.6"/><path class="ec" d="M510.45 18.6H517.11"/>
<path class="eb" d="M521.7 28.6V18.6"/><path class="ec" d="M518.37 18.6H525.03"/>
<path class="eb" d="M529.62 28.6V18.6"/><path class="ec" d="M526.29 18.6H532.95"/>
<path class="eb" d="M537.54 24.7V14.6"/><path class="ec" d="M534.21 14.6H540.87"/>
<text transform="translate(308.46 91.9) rotate(0.06)" class="lt">A</text>
<text transform="translate(316.38 91.1) rotate(0.06)" class="lt">A</text>
<text transform="translate(324.3 89.9) rotate(0.06)" class="lt">A</text>
<text transform="translate(332.22 79.7) rotate(0.06)" class="lt">A</text>
<text transform="translate(340.14 73.9) rotate(0.06)" class="lt">A</text>
<text transform="translate(348.06 75.3) rotate(0.06)" class="lt">A</text>
<text transform="translate(355.98 69.8) rotate(0.06)" class="lt">A</text>
<text transform="translate(363.9 65.5) rotate(0.06)" class="lt">A</text>
<text transform="translate(371.82 64.1) rotate(0.06)" class="lt">B</text>
<text transform="translate(379.74 56.2) rotate(0.06)" class="lt">B</text>
<text transform="translate(387.66 49.9) rotate(0.06)" class="lt">B</text>
<text transform="translate(395.58 56.4) rotate(0.06)" class="lt">B</text>
<text transform="translate(403.5 48.3) rotate(0.06)" class="lt">B</text>
<text transform="translate(411.42 43.3) rotate(0.06)" class="lt">B</text>
<text transform="translate(419.34 42.2) rotate(0.06)" class="lt">B</text>
<text transform="translate(427.26 42.2) rotate(0.06)" class="lt">B</text>
<text transform="translate(435.18 44.7) rotate(0.06)" class="lt">B</text>
<text transform="translate(443.1 35.5) rotate(0.06)" class="lt">B</text>
<text transform="translate(451.02 34.1) rotate(0.06)" class="lt">C</text>
<text transform="translate(458.94 31.1) rotate(0.06)" class="lt">C</text>
<text transform="translate(466.86 34) rotate(0.06)" class="lt">C</text>
<text transform="translate(474.78 34) rotate(0.06)" class="lt">C</text>
<text transform="translate(482.7 29.9) rotate(0.06)" class="lt">C</text>
<text transform="translate(490.62 29.3) rotate(0.06)" class="lt">C</text>
<text transform="translate(498.54 24.3) rotate(0.06)" class="lt">C</text>
<text transform="translate(506.46 21.2) rotate(0.06)" class="lt">C</text>
<text transform="translate(514.38 15.5) rotate(0.06)" class="lt">C</text>
<text transform="translate(522.3 15.5) rotate(0.06)" class="lt">C</text>
<text transform="translate(530.22 15.5) rotate(0.06)" class="lt">C</text>
<text transform="translate(538.14 11.5) rotate(0.06)" class="lt">C</text>
<path class="ax" d="M300.1 5.7V117.1H546"/>
<path class="ax" d="M299.1 5.9H300.1"/>
<text transform="translate(299 7.3) rotate(0.06)" class="yl">100.0</text>
<path class="ax" d="M299.1 11.46H300.1"/>
<text transform="translate(299 12.87) rotate(0.06)" class="yl">95.0</text>
<path class="ax" d="M299.1 17.03H300.1"/>
<text transform="translate(299 18.43) rotate(0.06)" class="yl">90.0</text>
<path class="ax" d="M299.1 22.59H300.1"/>
<text transform="translate(299 23.99) rotate(0.06)" class="yl">85.0</text>
<path class="ax" d="M299.1 28.16H300.1"/>
<text transform="translate(299 29.56) rotate(0.06)" class="yl">80.0</text>
<path class="ax" d="M299.1 33.73H300.1"/>
<text transform="translate(299 35.12) rotate(0.06)" class="yl">75.0</text>
<path class="ax" d="M299.1 39.29H300.1"/>
<text transform="translate(299 40.69) rotate(0.06)" class="yl">70.0</text>
<path class="ax" d="M299.1 44.86H300.1"/>
<text transform="translate(299 46.26) rotate(0.06)" class="yl">65.0</text>
<path class="ax" d="M299.1 50.42H300.1"/>
<text transform="translate(299 51.82) rotate(0.06)" class="yl">60.0</text>
<path class="ax" d="M299.1 55.98H300.1"/>
<text transform="translate(299 57.38) rotate(0.06)" class="yl">55.0</text>
<path class="ax" d="M299.1 61.55H300.1"/>
<text transform="translate(299 62.95) rotate(0.06)" class="yl">50.0</text>
<path class="ax" d="M299.1 67.12H300.1"/>
<text transform="translate(299 68.52) rotate(0.06)" class="yl">45.0</text>
<path class="ax" d="M299.1 72.68H300.1"/>
<text transform="translate(299 74.08) rotate(0.06)" class="yl">40.0</text>
<path class="ax" d="M299.1 78.25H300.1"/>
<text transform="translate(299 79.65) rotate(0.06)" class="yl">35.0</text>
<path class="ax" d="M299.1 83.81H300.1"/>
<text transform="translate(299 85.21) rotate(0.06)" class="yl">30.0</text>
<path class="ax" d="M299.1 89.38H300.1"/>
<text transform="translate(299 90.78) rotate(0.06)" class="yl">25.0</text>
<path class="ax" d="M299.1 94.94H300.1"/>
<text transform="translate(299 96.34) rotate(0.06)" class="yl">20.0</text>
<path class="ax" d="M299.1 100.51H300.1"/>
<text transform="translate(299 101.91) rotate(0.06)" class="yl">15.0</text>
<path class="ax" d="M299.1 106.07H300.1"/>
<text transform="translate(299 107.47) rotate(0.06)" class="yl">10.0</text>
<path class="ax" d="M299.1 111.64H300.1"/>
<text transform="translate(299 113.04) rotate(0.06)" class="yl">5.0</text>
<path class="ax" d="M299.1 117.2H300.1"/>
<text transform="translate(299 118.6) rotate(0.06)" class="yl">0.0</text>
<text transform="translate(347.56 107.1) rotate(0.06)" class="st">*</text>
<text transform="translate(371.32 107.1) rotate(0.06)" class="st">*</text>
<text transform="translate(395.08 107.1) rotate(0.06)" class="st">*</text>
<text transform="translate(403 107.1) rotate(0.06)" class="st">*</text>
<text transform="translate(434.68 107.1) rotate(0.06)" class="st">*</text>
<text transform="translate(442.6 107.1) rotate(0.06)" class="st">*</text>
<text transform="translate(450.52 107.1) rotate(0.06)" class="st">*</text>
<text transform="translate(458.44 107.1) rotate(0.06)" class="st">*</text>
<text transform="translate(466.36 107.1) rotate(0.06)" class="st">*</text>
<text transform="translate(474.28 107.1) rotate(0.06)" class="st">*</text>
<text transform="translate(482.2 107.1) rotate(0.06)" class="st">*</text>
<text transform="translate(490.12 107.1) rotate(0.06)" class="st">*</text>
<text transform="translate(498.04 107.1) rotate(0.06)" class="st">*</text>
<text transform="translate(505.96 107.1) rotate(0.06)" class="st">*</text>
<text class="xl" transform="translate(309.16 118) rotate(-89.94)">Hap_38</text>
<text class="xl" transform="translate(317.08 118) rotate(-89.94)">Hap_35</text>
<text class="xl" transform="translate(325 118) rotate(-89.94)">Hap_37</text>
<text class="xl" transform="translate(332.92 118) rotate(-89.94)">Hap_8</text>
<text class="xl" transform="translate(340.84 118) rotate(-89.94)">Hap_3</text>
<text class="xl" transform="translate(348.76 118) rotate(-89.94)">Hap_36</text>
<text class="xl" transform="translate(356.68 118) rotate(-89.94)">Hap_27</text>
<text class="xl" transform="translate(364.6 118) rotate(-89.94)">Hap_39</text>
<text class="xl" transform="translate(372.52 118) rotate(-89.94)">Hap_13</text>
<text class="xl" transform="translate(380.44 118) rotate(-89.94)">Hap_5</text>
<text class="xl" transform="translate(388.36 118) rotate(-89.94)">Hap_6</text>
<text class="xl" transform="translate(396.28 118) rotate(-89.94)">Hap_11</text>
<text class="xl" transform="translate(404.2 118) rotate(-89.94)">Hap_12</text>
<text class="xl" transform="translate(412.12 118) rotate(-89.94)">Hap_7</text>
<text class="xl" transform="translate(420.04 118) rotate(-89.94)">Hap_9</text>
<text class="xl" transform="translate(427.96 118) rotate(-89.94)">Hap_26</text>
<text class="xl" transform="translate(435.88 118) rotate(-89.94)">Hap_14</text>
<text class="xl" transform="translate(443.8 118) rotate(-89.94)">Hap_24</text>
<text class="xl" transform="translate(451.72 118) rotate(-89.94)">Hap_20</text>
<text class="xl" transform="translate(459.64 118) rotate(-89.94)">Hap_21</text>
<text class="xl" transform="translate(467.56 118) rotate(-89.94)">Hap_16</text>
<text class="xl" transform="translate(475.48 118) rotate(-89.94)">Hap_22</text>
<text class="xl" transform="translate(483.4 118) rotate(-89.94)">Hap_23</text>
<text class="xl" transform="translate(491.32 118) rotate(-89.94)">Hap_17</text>
<text class="xl" transform="translate(499.24 118) rotate(-89.94)">Hap_25</text>
<text class="xl" transform="translate(507.16 118) rotate(-89.94)">Hap_19</text>
<text class="xl" transform="translate(515.08 118) rotate(-89.94)">Hap_4</text>
<text class="xl" transform="translate(523 118) rotate(-89.94)">Hap_31</text>
<text class="xl" transform="translate(530.92 118) rotate(-89.94)">Hap_1</text>
<text class="xl" transform="translate(538.84 118) rotate(-89.94)">Hap_18</text>
<text transform="translate(400 12.8) rotate(0.06)" class="tt" textLength="17.8" lengthAdjust="spacingAndGlyphs">SDSS</text>
<text transform="translate(420.2 12.8) rotate(0.06)" class="tt" textLength="13.7" lengthAdjust="spacingAndGlyphs">test</text>
<text transform="translate(436.6 12.8) rotate(0.06)" class="tt" textLength="17.2" lengthAdjust="spacingAndGlyphs">2011</text>
<text transform="translate(313.8 20.15) rotate(0.06)" class="pl" font-size="10.7" textLength="7" lengthAdjust="spacingAndGlyphs">C</text>
<clipPath id="clipC"><rect x="280.2" y="0" width="2.1" height="148"/></clipPath>
<g clip-path="url(#clipC)"><text class="yt" font-size="5.0" transform="translate(282.5 61.85) rotate(-89.94)" textLength="56.5" lengthAdjust="spacingAndGlyphs">LSMEAN SDSS test 2011</text></g>
<text transform="translate(423.5 145.6) rotate(0.06)" class="xt">Haplotype</text>
</g>
<g class="chart" id="chartD">
<rect x="303.1" y="251.2" width="7.02" height="12.1" fill="#c5c5c5"/><path d="M303.33 251.2V263.3M309.89 251.2V263.3" stroke="#b4b4b4" stroke-width="0.45" fill="none"/>
<rect x="310.12" y="248.5" width="7.02" height="14.8" fill="#c5c5c5"/><path d="M310.34 248.5V263.3M316.91 248.5V263.3" stroke="#b4b4b4" stroke-width="0.45" fill="none"/>
<rect x="317.14" y="242.3" width="7.02" height="21" fill="#c5c5c5"/><path d="M317.36 242.3V263.3M323.93 242.3V263.3" stroke="#b4b4b4" stroke-width="0.45" fill="none"/>
<rect x="324.15" y="240.3" width="7.02" height="23" fill="#c5c5c5"/><path d="M324.38 240.3V263.3M330.95 240.3V263.3" stroke="#b4b4b4" stroke-width="0.45" fill="none"/>
<rect x="331.17" y="237" width="7.02" height="26.3" fill="#c5c5c5"/><path d="M331.4 237V263.3M337.96 237V263.3" stroke="#b4b4b4" stroke-width="0.45" fill="none"/>
<rect x="338.19" y="234" width="7.02" height="29.3" fill="#c5c5c5"/><path d="M338.42 234V263.3M344.98 234V263.3" stroke="#b4b4b4" stroke-width="0.45" fill="none"/>
<rect x="345.21" y="230.5" width="7.02" height="32.8" fill="#c5c5c5"/><path d="M345.43 230.5V263.3M352 230.5V263.3" stroke="#b4b4b4" stroke-width="0.45" fill="none"/>
<rect x="352.23" y="222" width="7.02" height="41.3" fill="#7f7f7f"/><path d="M352.48 222V263.3M358.99 222V263.3" stroke="#c2c2c2" stroke-width="0.5" fill="none"/>
<rect x="359.24" y="216.4" width="7.02" height="46.9" fill="#7f7f7f"/><path d="M359.49 216.4V263.3M366.01 216.4V263.3" stroke="#c2c2c2" stroke-width="0.5" fill="none"/>
<rect x="366.26" y="215.1" width="7.02" height="48.2" fill="#7f7f7f"/><path d="M366.51 215.1V263.3M373.03 215.1V263.3" stroke="#c2c2c2" stroke-width="0.5" fill="none"/>
<rect x="373.28" y="209.3" width="7.02" height="54" fill="#7f7f7f"/><path d="M373.53 209.3V263.3M380.05 209.3V263.3" stroke="#c2c2c2" stroke-width="0.5" fill="none"/>
<rect x="380.3" y="206" width="7.02" height="57.3" fill="#7f7f7f"/><path d="M380.55 206V263.3M387.07 206V263.3" stroke="#c2c2c2" stroke-width="0.5" fill="none"/>
<rect x="387.32" y="206" width="7.02" height="57.3" fill="#7f7f7f"/><path d="M387.57 206V263.3M394.08 206V263.3" stroke="#c2c2c2" stroke-width="0.5" fill="none"/>
<rect x="394.33" y="204.6" width="7.02" height="58.7" fill="#7f7f7f"/><path d="M394.58 204.6V263.3M401.1 204.6V263.3" stroke="#c2c2c2" stroke-width="0.5" fill="none"/>
<rect x="401.35" y="200.9" width="7.02" height="62.4" fill="#7f7f7f"/><path d="M401.6 200.9V263.3M408.12 200.9V263.3" stroke="#c2c2c2" stroke-width="0.5" fill="none"/>
<rect x="408.37" y="199.1" width="7.02" height="64.2" fill="#7f7f7f"/><path d="M408.62 199.1V263.3M415.14 199.1V263.3" stroke="#c2c2c2" stroke-width="0.5" fill="none"/>
<rect x="415.39" y="199.1" width="7.02" height="64.2" fill="#7f7f7f"/><path d="M415.64 199.1V263.3M422.16 199.1V263.3" stroke="#c2c2c2" stroke-width="0.5" fill="none"/>
<rect x="422.41" y="191.8" width="7.02" height="71.5" fill="#0e7ac5"/><path d="M422.63 191.8V263.3M429.2 191.8V263.3" stroke="#9dc0dc" stroke-width="0.45" fill="none"/>
<rect x="429.42" y="188.6" width="7.02" height="74.7" fill="#0e7ac5"/><path d="M429.65 188.6V263.3M436.22 188.6V263.3" stroke="#9dc0dc" stroke-width="0.45" fill="none"/>
<rect x="436.44" y="188.4" width="7.02" height="74.9" fill="#0e7ac5"/><path d="M436.67 188.4V263.3M443.23 188.4V263.3" stroke="#9dc0dc" stroke-width="0.45" fill="none"/>
<rect x="443.46" y="188.2" width="7.02" height="75.1" fill="#0e7ac5"/><path d="M443.69 188.2V263.3M450.25 188.2V263.3" stroke="#9dc0dc" stroke-width="0.45" fill="none"/>
<rect x="450.48" y="186.4" width="7.02" height="76.9" fill="#0e7ac5"/><path d="M450.7 186.4V263.3M457.27 186.4V263.3" stroke="#9dc0dc" stroke-width="0.45" fill="none"/>
<rect x="457.5" y="185.9" width="7.02" height="77.4" fill="#0e7ac5"/><path d="M457.72 185.9V263.3M464.29 185.9V263.3" stroke="#9dc0dc" stroke-width="0.45" fill="none"/>
<rect x="464.51" y="184.5" width="7.02" height="78.8" fill="#0e7ac5"/><path d="M464.74 184.5V263.3M471.31 184.5V263.3" stroke="#9dc0dc" stroke-width="0.45" fill="none"/>
<rect x="471.53" y="182.1" width="7.02" height="81.2" fill="#0e7ac5"/><path d="M471.76 182.1V263.3M478.32 182.1V263.3" stroke="#9dc0dc" stroke-width="0.45" fill="none"/>
<rect x="478.55" y="179.8" width="7.02" height="83.5" fill="#0e7ac5"/><path d="M478.78 179.8V263.3M485.34 179.8V263.3" stroke="#9dc0dc" stroke-width="0.45" fill="none"/>
<rect x="485.57" y="179" width="7.02" height="84.3" fill="#0e7ac5"/><path d="M485.79 179V263.3M492.36 179V263.3" stroke="#9dc0dc" stroke-width="0.45" fill="none"/>
<rect x="492.59" y="178.8" width="7.02" height="84.5" fill="#0e7ac5"/><path d="M492.81 178.8V263.3M499.38 178.8V263.3" stroke="#9dc0dc" stroke-width="0.45" fill="none"/>
<rect x="499.6" y="178" width="7.02" height="85.3" fill="#0e7ac5"/><path d="M499.83 178V263.3M506.4 178V263.3" stroke="#9dc0dc" stroke-width="0.45" fill="none"/>
<rect x="506.62" y="177" width="7.02" height="86.3" fill="#0e7ac5"/><path d="M506.85 177V263.3M513.41 177V263.3" stroke="#9dc0dc" stroke-width="0.45" fill="none"/>
<rect x="513.64" y="176.4" width="7.02" height="86.9" fill="#0e7ac5"/><path d="M513.87 176.4V263.3M520.43 176.4V263.3" stroke="#9dc0dc" stroke-width="0.45" fill="none"/>
<rect x="520.66" y="170.9" width="7.02" height="92.4" fill="#0e7ac5"/><path d="M520.88 170.9V263.3M527.45 170.9V263.3" stroke="#9dc0dc" stroke-width="0.45" fill="none"/>
<rect x="527.68" y="170.1" width="7.02" height="93.2" fill="#0e7ac5"/><path d="M527.9 170.1V263.3M534.47 170.1V263.3" stroke="#9dc0dc" stroke-width="0.45" fill="none"/>
<rect x="534.69" y="169.7" width="7.02" height="93.6" fill="#0e7ac5"/><path d="M534.92 169.7V263.3M541.49 169.7V263.3" stroke="#9dc0dc" stroke-width="0.45" fill="none"/>
<path class="eb" d="M306.61 251.2V237.6"/><path class="ec" d="M303.66 237.6H309.56"/>
<path class="eb" d="M313.63 248.5V235"/><path class="ec" d="M310.68 235H316.57"/>
<path class="eb" d="M320.65 242.3V229.1"/><path class="ec" d="M317.7 229.1H323.59"/>
<path class="eb" d="M327.66 240.3V227.1"/><path class="ec" d="M324.72 227.1H330.61"/>
<path class="eb" d="M334.68 237V223.4"/><path class="ec" d="M331.73 223.4H337.63"/>
<path class="eb" d="M341.7 234V220.4"/><path class="ec" d="M338.75 220.4H344.65"/>
<path class="eb" d="M348.72 230.5V221"/><path class="ec" d="M345.77 221H351.66"/>
<path class="eb" d="M355.74 222V208.6"/><path class="ec" d="M352.79 208.6H358.68"/>
<path class="eb" d="M362.75 216.4V203.2"/><path class="ec" d="M359.81 203.2H365.7"/>
<path class="eb" d="M369.77 215.1V202.2"/><path class="ec" d="M366.82 202.2H372.72"/>
<path class="eb" d="M376.79 209.3V205.4"/><path class="ec" d="M373.84 205.4H379.74"/>
<path class="eb" d="M383.81 206V199.8"/><path class="ec" d="M380.86 199.8H386.75"/>
<path class="eb" d="M390.83 206V193"/><path class="ec" d="M387.88 193H393.77"/>
<path class="eb" d="M397.84 204.6V191"/><path class="ec" d="M394.9 191H400.79"/>
<path class="eb" d="M404.86 200.9V187.4"/><path class="ec" d="M401.91 187.4H407.81"/>
<path class="eb" d="M411.88 199.1V196.1"/><path class="ec" d="M408.93 196.1H414.83"/>
<path class="eb" d="M418.9 199.1V185.9"/><path class="ec" d="M415.95 185.9H421.84"/>
<path class="eb" d="M425.92 191.8V184.3"/><path class="ec" d="M422.97 184.3H428.86"/>
<path class="eb" d="M432.93 188.6V175.2"/><path class="ec" d="M429.99 175.2H435.88"/>
<path class="eb" d="M439.95 188.4V178.6"/><path class="ec" d="M437 178.6H442.9"/>
<path class="eb" d="M446.97 188.2V184.7"/><path class="ec" d="M444.02 184.7H449.92"/>
<path class="eb" d="M453.99 186.4V172.8"/><path class="ec" d="M451.04 172.8H456.93"/>
<path class="eb" d="M461 185.9V182.9"/><path class="ec" d="M458.06 182.9H463.95"/>
<path class="eb" d="M468.02 184.5V182.5"/><path class="ec" d="M465.08 182.5H470.97"/>
<path class="eb" d="M475.04 182.1V178.4"/><path class="ec" d="M472.09 178.4H477.99"/>
<path class="eb" d="M482.06 179.8V170.7"/><path class="ec" d="M479.11 170.7H485.01"/>
<path class="eb" d="M489.08 179V165.6"/><path class="ec" d="M486.13 165.6H492.02"/>
<path class="eb" d="M496.1 178.8V165.6"/><path class="ec" d="M493.15 165.6H499.04"/>
<path class="eb" d="M503.11 178V168.9"/><path class="ec" d="M500.17 168.9H506.06"/>
<path class="eb" d="M510.13 177V163.8"/><path class="ec" d="M507.18 163.8H513.08"/>
<path class="eb" d="M517.15 176.4V167.3"/><path class="ec" d="M514.2 167.3H520.1"/>
<path class="eb" d="M524.17 170.9V161.6"/><path class="ec" d="M521.22 161.6H527.11"/>
<path class="eb" d="M531.18 170.1V157.1"/><path class="ec" d="M528.24 157.1H534.13"/>
<path class="eb" d="M538.2 169.7V156.5"/><path class="ec" d="M535.26 156.5H541.15"/>
<text transform="translate(307.21 234.5) rotate(0.06)" class="lt">A</text>
<text transform="translate(314.23 231.9) rotate(0.06)" class="lt">A</text>
<text transform="translate(321.25 226) rotate(0.06)" class="lt">A</text>
<text transform="translate(328.26 224) rotate(0.06)" class="lt">A</text>
<text transform="translate(335.28 220.3) rotate(0.06)" class="lt">A</text>
<text transform="translate(342.3 217.3) rotate(0.06)" class="lt">A</text>
<text transform="translate(349.32 217.9) rotate(0.06)" class="lt">A</text>
<text transform="translate(356.34 205.5) rotate(0.06)" class="lt">B</text>
<text transform="translate(363.35 200.1) rotate(0.06)" class="lt">B</text>
<text transform="translate(370.37 199.1) rotate(0.06)" class="lt">B</text>
<text transform="translate(377.39 202.3) rotate(0.06)" class="lt">B</text>
<text transform="translate(384.41 196.7) rotate(0.06)" class="lt">B</text>
<text transform="translate(391.43 189.9) rotate(0.06)" class="lt">B</text>
<text transform="translate(398.44 187.9) rotate(0.06)" class="lt">B</text>
<text transform="translate(405.46 184.3) rotate(0.06)" class="lt">B</text>
<text transform="translate(412.48 193) rotate(0.06)" class="lt">B</text>
<text transform="translate(419.5 182.8) rotate(0.06)" class="lt">B</text>
<text transform="translate(426.52 181.2) rotate(0.06)" class="lt">C</text>
<text transform="translate(433.53 172.1) rotate(0.06)" class="lt">C</text>
<text transform="translate(440.55 175.5) rotate(0.06)" class="lt">C</text>
<text transform="translate(447.57 181.6) rotate(0.06)" class="lt">C</text>
<text transform="translate(454.59 169.7) rotate(0.06)" class="lt">C</text>
<text transform="translate(461.61 179.8) rotate(0.06)" class="lt">C</text>
<text transform="translate(468.62 179.4) rotate(0.06)" class="lt">C</text>
<text transform="translate(475.64 175.3) rotate(0.06)" class="lt">C</text>
<text transform="translate(482.66 167.6) rotate(0.06)" class="lt">C</text>
<text transform="translate(489.68 162.5) rotate(0.06)" class="lt">C</text>
<text transform="translate(496.7 162.5) rotate(0.06)" class="lt">C</text>
<text transform="translate(503.71 165.8) rotate(0.06)" class="lt">C</text>
<text transform="translate(510.73 160.7) rotate(0.06)" class="lt">C</text>
<text transform="translate(517.75 164.2) rotate(0.06)" class="lt">C</text>
<text transform="translate(524.77 158.5) rotate(0.06)" class="lt">C</text>
<text transform="translate(531.78 154) rotate(0.06)" class="lt">C</text>
<text transform="translate(538.8 153.4) rotate(0.06)" class="lt">C</text>
<path class="ax" d="M299.6 151.4V263.3H546.21"/>
<path class="ax" d="M298.6 151.35H299.6"/>
<text transform="translate(298.4 152.75) rotate(0.06)" class="yl">100.0</text>
<path class="ax" d="M298.6 156.94H299.6"/>
<text transform="translate(298.4 158.34) rotate(0.06)" class="yl">95.0</text>
<path class="ax" d="M298.6 162.53H299.6"/>
<text transform="translate(298.4 163.93) rotate(0.06)" class="yl">90.0</text>
<path class="ax" d="M298.6 168.11H299.6"/>
<text transform="translate(298.4 169.51) rotate(0.06)" class="yl">85.0</text>
<path class="ax" d="M298.6 173.7H299.6"/>
<text transform="translate(298.4 175.1) rotate(0.06)" class="yl">80.0</text>
<path class="ax" d="M298.6 179.29H299.6"/>
<text transform="translate(298.4 180.69) rotate(0.06)" class="yl">75.0</text>
<path class="ax" d="M298.6 184.88H299.6"/>
<text transform="translate(298.4 186.28) rotate(0.06)" class="yl">70.0</text>
<path class="ax" d="M298.6 190.46H299.6"/>
<text transform="translate(298.4 191.86) rotate(0.06)" class="yl">65.0</text>
<path class="ax" d="M298.6 196.05H299.6"/>
<text transform="translate(298.4 197.45) rotate(0.06)" class="yl">60.0</text>
<path class="ax" d="M298.6 201.64H299.6"/>
<text transform="translate(298.4 203.04) rotate(0.06)" class="yl">55.0</text>
<path class="ax" d="M298.6 207.22H299.6"/>
<text transform="translate(298.4 208.62) rotate(0.06)" class="yl">50.0</text>
<path class="ax" d="M298.6 212.81H299.6"/>
<text transform="translate(298.4 214.21) rotate(0.06)" class="yl">45.0</text>
<path class="ax" d="M298.6 218.4H299.6"/>
<text transform="translate(298.4 219.8) rotate(0.06)" class="yl">40.0</text>
<path class="ax" d="M298.6 223.99H299.6"/>
<text transform="translate(298.4 225.39) rotate(0.06)" class="yl">35.0</text>
<path class="ax" d="M298.6 229.57H299.6"/>
<text transform="translate(298.4 230.97) rotate(0.06)" class="yl">30.0</text>
<path class="ax" d="M298.6 235.16H299.6"/>
<text transform="translate(298.4 236.56) rotate(0.06)" class="yl">25.0</text>
<path class="ax" d="M298.6 240.75H299.6"/>
<text transform="translate(298.4 242.15) rotate(0.06)" class="yl">20.0</text>
<path class="ax" d="M298.6 246.34H299.6"/>
<text transform="translate(298.4 247.74) rotate(0.06)" class="yl">15.0</text>
<path class="ax" d="M298.6 251.93H299.6"/>
<text transform="translate(298.4 253.33) rotate(0.06)" class="yl">10.0</text>
<path class="ax" d="M298.6 257.51H299.6"/>
<text transform="translate(298.4 258.91) rotate(0.06)" class="yl">5.0</text>
<path class="ax" d="M298.6 263.1H299.6"/>
<text transform="translate(298.4 264.5) rotate(0.06)" class="yl">0.0</text>
<text transform="translate(348.52 253.3) rotate(0.06)" class="st">*</text>
<text transform="translate(376.59 253.3) rotate(0.06)" class="st">*</text>
<text transform="translate(383.61 253.3) rotate(0.06)" class="st">*</text>
<text transform="translate(411.68 253.3) rotate(0.06)" class="st">*</text>
<text transform="translate(425.72 253.3) rotate(0.06)" class="st">*</text>
<text transform="translate(439.75 253.3) rotate(0.06)" class="st">*</text>
<text transform="translate(446.77 253.3) rotate(0.06)" class="st">*</text>
<text transform="translate(460.81 253.3) rotate(0.06)" class="st">*</text>
<text transform="translate(467.82 253.3) rotate(0.06)" class="st">*</text>
<text transform="translate(474.84 253.3) rotate(0.06)" class="st">*</text>
<text transform="translate(481.86 253.3) rotate(0.06)" class="st">*</text>
<text transform="translate(502.91 253.3) rotate(0.06)" class="st">*</text>
<text transform="translate(516.95 253.3) rotate(0.06)" class="st">*</text>
<text transform="translate(523.97 253.3) rotate(0.06)" class="st">*</text>
<text class="xl" transform="translate(308.81 264.7) rotate(-89.94)">Hap37</text>
<text class="xl" transform="translate(315.78 264.7) rotate(-89.94)">Hap_38</text>
<text class="xl" transform="translate(322.75 264.7) rotate(-89.94)">Hap_35</text>
<text class="xl" transform="translate(329.73 264.7) rotate(-89.94)">Hap_3</text>
<text class="xl" transform="translate(336.7 264.7) rotate(-89.94)">Hap_39</text>
<text class="xl" transform="translate(343.67 264.7) rotate(-89.94)">Hap_40</text>
<text class="xl" transform="translate(350.64 264.7) rotate(-89.94)">Hap_36</text>
<text class="xl" transform="translate(357.62 264.7) rotate(-89.94)">Hap_27</text>
<text class="xl" transform="translate(364.59 264.7) rotate(-89.94)">Hap_28</text>
<text class="xl" transform="translate(371.56 264.7) rotate(-89.94)">Hap_5</text>
<text class="xl" transform="translate(378.53 264.7) rotate(-89.94)">Hap_13</text>
<text class="xl" transform="translate(385.51 264.7) rotate(-89.94)">Hap_12</text>
<text class="xl" transform="translate(392.48 264.7) rotate(-89.94)">Hap_6</text>
<text class="xl" transform="translate(399.45 264.7) rotate(-89.94)">Hap_10</text>
<text class="xl" transform="translate(406.42 264.7) rotate(-89.94)">Hap_7</text>
<text class="xl" transform="translate(413.4 264.7) rotate(-89.94)">Hap_11</text>
<text class="xl" transform="translate(420.37 264.7) rotate(-89.94)">Hap_9</text>
<text class="xl" transform="translate(427.34 264.7) rotate(-89.94)">Hap_14</text>
<text class="xl" transform="translate(434.31 264.7) rotate(-89.94)">Hap_1</text>
<text class="xl" transform="translate(441.29 264.7) rotate(-89.94)">Hap_24</text>
<text class="xl" transform="translate(448.26 264.7) rotate(-89.94)">Hap_17</text>
<text class="xl" transform="translate(455.23 264.7) rotate(-89.94)">Hap_16</text>
<text class="xl" transform="translate(462.2 264.7) rotate(-89.94)">Hap_15</text>
<text class="xl" transform="translate(469.18 264.7) rotate(-89.94)">Hap_22</text>
<text class="xl" transform="translate(476.15 264.7) rotate(-89.94)">Hap_23</text>
<text class="xl" transform="translate(483.12 264.7) rotate(-89.94)">Hap_21</text>
<text class="xl" transform="translate(490.1 264.7) rotate(-89.94)">Hap_8</text>
<text class="xl" transform="translate(497.07 264.7) rotate(-89.94)">Hap_4</text>
<text class="xl" transform="translate(504.04 264.7) rotate(-89.94)">Hap_19</text>
<text class="xl" transform="translate(511.01 264.7) rotate(-89.94)">Hap_41</text>
<text class="xl" transform="translate(517.99 264.7) rotate(-89.94)">Hap_26</text>
<text class="xl" transform="translate(524.96 264.7) rotate(-89.94)">Hap_29</text>
<text class="xl" transform="translate(531.93 264.7) rotate(-89.94)">Hap_31</text>
<text class="xl" transform="translate(538.9 264.7) rotate(-89.94)">Hap_20</text>
<text transform="translate(397 160.25) rotate(0.06)" class="tt" textLength="17.8" lengthAdjust="spacingAndGlyphs">SDSS</text>
<text transform="translate(417 160.25) rotate(0.06)" class="tt" textLength="14.4" lengthAdjust="spacingAndGlyphs">test</text>
<text transform="translate(434 160.25) rotate(0.06)" class="tt" textLength="17.4" lengthAdjust="spacingAndGlyphs">2014</text>
<text transform="translate(311.3 160.1) rotate(0.06)" class="pl" font-size="11.0">D</text>
<g><text class="yt" font-size="4.6" transform="translate(280.8 207.05) rotate(-89.94)" textLength="54.9" lengthAdjust="spacingAndGlyphs">LSmean SDSS test 2014</text></g>
<text transform="translate(423.5 291) rotate(0.06)" class="xt">Haplotype</text>
</g>
</svg>
</body>
</html>
